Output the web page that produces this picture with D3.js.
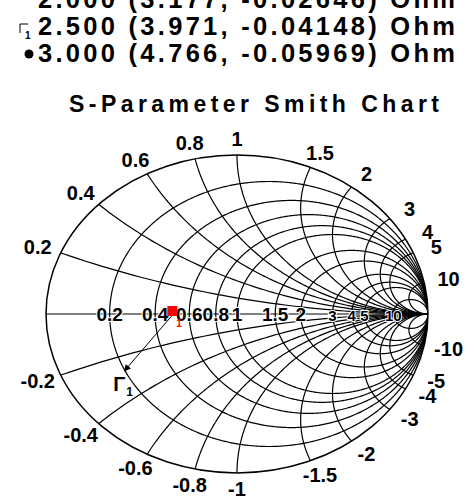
<!DOCTYPE html><html><head><meta charset="utf-8"><script src="https://d3js.org/d3.v7.min.js"></script>
<style>body{margin:0;background:#fff}text{font-family:"Liberation Sans",Arial,sans-serif;font-weight:bold}</style></head><body>
<svg id="c" width="474" height="503"></svg>
<script>
const rValues=[0.2,0.4,0.6,0.8,1,1.5,2,3,4,5,10];
const xValues=[0.2,0.4,0.6,0.8,1,1.5,2,3,4,5,10];
const axisLabels=["0.2","0.4","0.6","0.8","1","1.5","2","3","4","5","10"];
const legendLines=["2.000 (3.177, -0.02646) Ohm","2.500 (3.971, -0.04148) Ohm","3.000 (4.766, -0.05969) Ohm"];
const markerZ=[0.5,0];
const svg=d3.select("#c");
const sx=d3.scaleLinear().domain([-1,1]).range([46,428]);
const sy=d3.scaleLinear().domain([-1,1]).range([473,155]);
const line=d3.line().x(d=>sx(d[0])).y(d=>sy(d[1]));
legendLines.forEach((t,i)=>svg.append("text").attr("x",38).attr("y",8+i*27).attr("font-size",25.5).attr("textLength",417).text(t));
svg.append("path").attr("d","M20,24h8M20,24v9").attr("stroke","#000").attr("fill","none");
svg.append("text").attr("x",25).attr("y",39).attr("font-size",10).attr("font-weight","normal").text("1");
svg.append("circle").attr("cx",29).attr("cy",54).attr("r",4.5);
svg.append("text").attr("x",254).attr("y",112).attr("text-anchor","middle").attr("font-size",23).attr("textLength",370).text("S-Parameter Smith Chart");
svg.append("clipPath").attr("id","cl").append("ellipse").attr("cx",sx(0)).attr("cy",sy(0)).attr("rx",sx(1)-sx(0)).attr("ry",sy(-1)-sy(0));
const g=svg.append("g").attr("clip-path","url(#cl)");
function circ(cx,cy,r){const p=[];for(let i=0;i<=720;i++){const a=i/720*2*Math.PI;p.push([cx+r*Math.cos(a),cy+r*Math.sin(a)]);}return p;}
rValues.forEach(r=>g.append("path").attr("d",line(circ(r/(1+r),0,1/(1+r)))).attr("fill","none").attr("stroke","#000").attr("stroke-width",1.2));
xValues.forEach(x=>[x,-x].forEach(v=>g.append("path").attr("d",line(circ(1,1/v,1/Math.abs(v)))).attr("fill","none").attr("stroke","#000").attr("stroke-width",1.2)));
g.append("path").attr("d",line([[-1,0],[1,0]])).attr("stroke","#000");
svg.append("ellipse").attr("cx",sx(0)).attr("cy",sy(0)).attr("rx",sx(1)-sx(0)).attr("ry",sy(-1)-sy(0)).attr("fill","none").attr("stroke","#000").attr("stroke-width",1.5);
rValues.forEach((r,i)=>{const G=(r-1)/(r+1);svg.append("text").attr("x",sx(G)).attr("y",sy(0)+7).attr("text-anchor","middle").attr("font-size",i<7?19:15).text(axisLabels[i]).attr("stroke","#fff").attr("stroke-width",2).attr("paint-order","stroke");});
xValues.forEach((x,i)=>[x,-x].forEach(v=>{const d=1+v*v;const gr=(v*v-1)/d, gi=2*v/d;const a=Math.atan2(gi,gr);
 svg.append("text").attr("x",sx(1.13*Math.cos(a))).attr("y",sy(1.1*Math.sin(a))+7).attr("text-anchor","middle").attr("font-size",20).text(v>0?axisLabels[i]:"-"+axisLabels[i]);}));
const mG=(markerZ[0]-1)/(markerZ[0]+1);
svg.append("defs").append("marker").attr("id","ar").attr("viewBox","0 0 10 10").attr("refX",9).attr("refY",5).attr("markerWidth",7).attr("markerHeight",7).attr("orient","auto").append("path").attr("d","M0,0L10,5L0,10z");
svg.append("line").attr("x1",sx(mG)).attr("y1",sy(0)).attr("x2",sx(mG)-49).attr("y2",sy(0)+57).attr("stroke","#000").attr("marker-end","url(#ar)");
svg.append("rect").attr("x",sx(mG)-6).attr("y",sy(0)-8).attr("width",10).attr("height",10).attr("fill","#f00");
svg.append("text").attr("x",sx(mG)+3).attr("y",sy(0)+13).attr("fill","#f00").attr("font-size",10).attr("font-family","serif").text("1");
svg.append("text").attr("x",sx(mG)-60).attr("y",sy(0)+77).attr("font-size",20).text("Γ");
svg.append("text").attr("x",sx(mG)-47).attr("y",sy(0)+82).attr("font-size",12).text("1");
</script></body></html>
